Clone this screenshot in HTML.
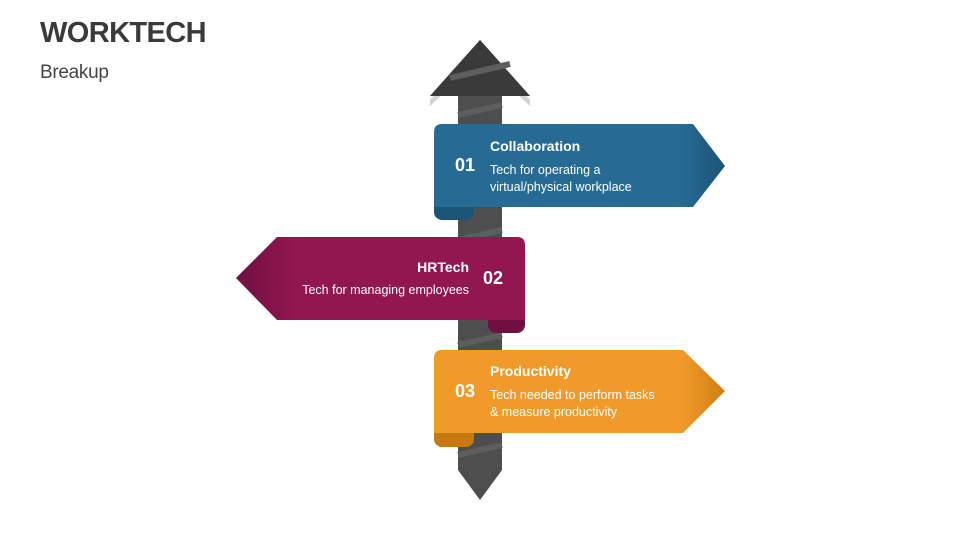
<!DOCTYPE html>
<html><head><meta charset="utf-8"><style>
body{margin:0;width:960px;height:540px;background:#fff;position:relative;font-family:"Liberation Sans",sans-serif;overflow:hidden}
.t{position:absolute;white-space:nowrap}
</style></head><body>
<div class="t" style="left:40px;top:17px;font-size:29px;font-weight:bold;color:#3a3a3a;letter-spacing:-0.6px">WORKTECH</div>
<div class="t" style="left:40px;top:62px;font-size:19px;color:#444;letter-spacing:-0.3px">Breakup</div>
<svg width="960" height="540" style="position:absolute;left:0;top:0">
<defs>
<linearGradient id="bt" x1="0" x2="1"><stop offset="0.85" stop-color="#266b94"/><stop offset="1" stop-color="#1c5478"/></linearGradient>
<linearGradient id="mt" x1="1" x2="0"><stop offset="0.8" stop-color="#921650"/><stop offset="1" stop-color="#6e1040"/></linearGradient>
<linearGradient id="ot" x1="0" x2="1"><stop offset="0.85" stop-color="#f09a2a"/><stop offset="1" stop-color="#d07e12"/></linearGradient>
</defs>
<polygon points="430,100 480,40 530,100 530,106 502,80 502,470 480,500 458,470 458,80 430,106" fill="#aaa" opacity="0.5"/>
<polygon points="430,96 480,40 530,96 502,96 502,470 480,500 458,470 458,96" fill="#4e4e4e"/>
<polygon points="430,96 480,40 530,96" fill="#3a3a3a"/>
<g stroke="#5e5e5e" stroke-width="6">
<line x1="458" y1="115" x2="502" y2="105"/><line x1="458" y1="240" x2="502" y2="230"/><line x1="458" y1="345" x2="502" y2="335"/><line x1="458" y1="455" x2="502" y2="445"/>
<line x1="450" y1="78" x2="510" y2="64"/></g>
<rect x="434" y="190" width="40" height="30" rx="8" fill="#1c5478"/>
<path d="M442,124 H693 L725,166 L693,207 H434 V132 Q434,124 442,124Z" fill="url(#bt)"/>
<rect x="488" y="305" width="37" height="28" rx="8" fill="#6e1040"/>
<path d="M517,237 H277 L236,278 L277,320 H525 V245 Q525,237 517,237Z" fill="url(#mt)"/>
<rect x="434" y="417" width="40" height="30" rx="8" fill="#c87810"/>
<path d="M442,350 H683 L725,391 L683,433 H434 V358 Q434,350 442,350Z" fill="url(#ot)"/>
</svg>
<div class="t" style="left:455px;top:155px;font-size:18px;font-weight:bold;color:#fff">01</div>
<div class="t" style="left:490px;top:138px;font-size:14px;font-weight:bold;color:#fff">Collaboration</div>
<div class="t" style="left:490px;top:162px;font-size:12.5px;color:#fff;line-height:17px">Tech for operating a<br>virtual/physical workplace</div>
<div class="t" style="left:483px;top:268px;font-size:18px;font-weight:bold;color:#fff">02</div>
<div class="t" style="right:491px;top:259px;font-size:14px;font-weight:bold;color:#fff;text-align:right">HRTech</div>
<div class="t" style="right:491px;top:283px;font-size:12.5px;color:#fff;text-align:right">Tech for managing employees</div>
<div class="t" style="left:455px;top:381px;font-size:18px;font-weight:bold;color:#fff">03</div>
<div class="t" style="left:490px;top:363px;font-size:14px;font-weight:bold;color:#fff">Productivity</div>
<div class="t" style="left:490px;top:387px;font-size:12.5px;color:#fff;line-height:17px">Tech needed to perform tasks<br>&amp; measure productivity</div>
</body></html>
